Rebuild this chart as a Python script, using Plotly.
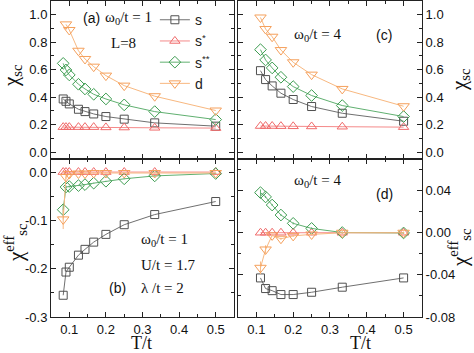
import plotly.graph_objects as go

# ---------------- data ----------------
T_a = [1/12, 1/11, 1/10, 1/8, 1/7, 1/6, 1/5, 1/4, 1/3, 1/2]
T_a_d = [1/11, 1/10, 1/8, 1/7, 1/6, 1/5, 1/4, 1/3, 1/2]
T_c = [1/9, 1/8, 1/7, 1/6, 1/5, 1/4, 1/3, 1/2]

# panel (a): omega0/t = 1, chi_sc
a_s = [0.387, 0.370, 0.351, 0.312, 0.295, 0.278, 0.259, 0.240, 0.213, 0.189]
a_s1 = [0.182, 0.182, 0.182, 0.182, 0.182, 0.182, 0.180, 0.179, 0.177, 0.175]
a_s2 = [0.646, 0.598, 0.562, 0.494, 0.460, 0.421, 0.387, 0.344, 0.295, 0.237]
a_d = [0.930, 0.889, 0.738, 0.678, 0.622, 0.557, 0.484, 0.407, 0.303]

# panel (c): omega0/t = 4, chi_sc
c_s = [0.593, 0.528, 0.482, 0.429, 0.383, 0.332, 0.283, 0.225]
c_s1 = [0.190, 0.190, 0.190, 0.189, 0.188, 0.187, 0.185, 0.182]
c_s2 = [0.746, 0.671, 0.613, 0.545, 0.477, 0.412, 0.339, 0.259]
c_d = [0.980, 0.896, 0.840, 0.743, 0.654, 0.564, 0.460, 0.334]

# panel (b): omega0/t = 1, chi_sc^eff
b_s = [-0.255, -0.207, -0.197, -0.172, -0.160, -0.145, -0.129, -0.109, -0.088, -0.061]
b_s1 = [0.000, 0.000, 0.000, 0.000, 0.000, 0.000, 0.000, 0.000, 0.000, 0.000]
b_s2 = [-0.078, -0.031, -0.030, -0.028, -0.026, -0.023, -0.019, -0.014, -0.008, -0.003]
b_s2_err = [0.012, 0.003, 0.002, 0.001, 0.001, 0.001, 0.001, 0.001, 0.001, 0.001]
b_d = [-0.098, -0.010, -0.004, -0.003, -0.003, -0.002, -0.002, -0.002, -0.002, -0.002]
b_d_err = [0.020, 0.004, 0.002, 0.001, 0.001, 0.001, 0.001, 0.001, 0.001, 0.001]

# panel (d): omega0/t = 4, chi_sc^eff
d_s = [-0.0429, -0.0530, -0.0550, -0.0587, -0.0587, -0.0565, -0.0517, -0.0429]
d_s1 = [0.000, 0.000, 0.000, 0.000, 0.000, 0.000, 0.000, 0.000]
d_s2 = [0.0381, 0.0340, 0.0263, 0.0168, 0.0089, 0.0041, 0.0002, -0.0002]
d_s2_err = [0.003, 0.001, 0.001, 0.001, 0.001, 0.001, 0.001, 0.001]
d_d = [-0.0333, -0.0159, -0.0025, -0.0057, -0.0030, -0.0016, 0.0000, 0.0000]
d_d_err = [0.006, 0.004, 0.001, 0.001, 0.001, 0.001, 0.001, 0.001]

x_ticks = [0.1, 0.2, 0.3, 0.4, 0.5]
x_ticktext = ["0.1", "0.2", "0.3", "0.4", "0.5"]
ytop_ticks = [0.0, 0.2, 0.4, 0.6, 0.8, 1.0]
ytop_text = ["0.0", "0.2", "0.4", "0.6", "0.8", "1.0"]
yb_ticks = [-0.3, -0.2, -0.1, 0.0]
yb_text = ["-0.3", "-0.2", "-0.1", "0.0"]
yd_ticks = [-0.08, -0.04, 0.0, 0.04]
yd_text = ["-0.08", "-0.04", "0.00", "0.04"]

names = ["s", "s<sup>*</sup>", "s<sup>**</sup>", "d"]
colors = ["#505050", "#f06a6a", "#3c9c50", "#f5a05c"]
line_colors = ["#707070", "#f58a8a", "#60b070", "#f8b880"]
symbols = ["square-open", "triangle-up-open", "diamond-open", "triangle-down-open"]
sizes = [8, 9, 9, 10]

fig = go.Figure()

def add(xs, ys, k, xa, ya, legend=False, err=None):
    tr = dict(
        x=xs, y=ys, mode="lines+markers", name=names[k],
        xaxis=xa, yaxis=ya, showlegend=legend,
        line=dict(color=line_colors[k], width=1),
        marker=dict(symbol=symbols[k], size=sizes[k], color=colors[k],
                    line=dict(width=1, color=colors[k])),
    )
    if err is not None:
        tr["error_y"] = dict(type="data", array=err, visible=True,
                             color=line_colors[k], thickness=1, width=0)
    fig.add_trace(go.Scatter(**tr))

# panel a
add(T_a, a_s, 0, "x", "y", True)
add(T_a, a_s1, 1, "x", "y", True)
add(T_a, a_s2, 2, "x", "y", True)
add(T_a_d, a_d, 3, "x", "y", True)
# panel c
add(T_c, c_s, 0, "x2", "y2")
add(T_c, c_s1, 1, "x2", "y2")
add(T_c, c_s2, 2, "x2", "y2")
add(T_c, c_d, 3, "x2", "y2")
# panel b
add(T_a, b_s, 0, "x3", "y3")
add(T_a, b_s1, 1, "x3", "y3")
add(T_a, b_s2, 2, "x3", "y3", err=b_s2_err)
add(T_a, b_d, 3, "x3", "y3", err=b_d_err)
# panel d
add(T_c, d_s, 0, "x4", "y4")
add(T_c, d_s1, 1, "x4", "y4")
add(T_c, d_s2, 2, "x4", "y4", err=d_s2_err)
add(T_c, d_d, 3, "x4", "y4", err=d_d_err)

tickfont = dict(family="Liberation Sans, Arial", size=13, color="#111")
xcommon = dict(range=[0.05, 0.55], showline=True, linecolor="#222", linewidth=1,
               mirror="ticks", ticks="inside", ticklen=5, tickcolor="#222",
               tickvals=x_ticks, ticktext=x_ticktext, showgrid=False, zeroline=False,
               tickfont=tickfont,
               minor=dict(ticks="inside", ticklen=3, tickcolor="#222",
                          tickvals=[0.05, 0.15, 0.25, 0.35, 0.45, 0.55]))
ycommon = dict(showline=True, linecolor="#222", linewidth=1, mirror="ticks",
               ticks="inside", ticklen=5, tickcolor="#222", showgrid=False,
               zeroline=False, tickfont=tickfont)

LD = [0.0, 0.4933]
RD = [0.504, 1.0]

fig.update_layout(
    width=474, height=353,
    margin=dict(l=51, r=52, t=1, b=36),
    paper_bgcolor="white", plot_bgcolor="white",
    xaxis=dict(xcommon, domain=LD, anchor="y", showticklabels=False),
    xaxis2=dict(xcommon, domain=RD, anchor="y2", showticklabels=False),
    xaxis3=dict(xcommon, domain=LD, anchor="y3"),
    xaxis4=dict(xcommon, domain=RD, anchor="y4"),
    yaxis=dict(ycommon, domain=[0.5, 1.0], anchor="x", range=[-0.05, 1.1],
               tickvals=ytop_ticks, ticktext=ytop_text,
               minor=dict(ticks="inside", ticklen=3, tickcolor="#222",
                          tickvals=[0.1, 0.3, 0.5, 0.7, 0.9])),
    yaxis2=dict(ycommon, domain=[0.5, 1.0], anchor="x2", side="right",
                range=[-0.05, 1.1], tickvals=ytop_ticks, ticktext=ytop_text,
                minor=dict(ticks="inside", ticklen=3, tickcolor="#222",
                           tickvals=[0.1, 0.3, 0.5, 0.7, 0.9])),
    yaxis3=dict(ycommon, domain=[0.0, 0.5], anchor="x3", range=[-0.3, 0.027],
                tickvals=yb_ticks, ticktext=yb_text,
                minor=dict(ticks="inside", ticklen=3, tickcolor="#222",
                           tickvals=[-0.25, -0.15, -0.05])),
    yaxis4=dict(ycommon, domain=[0.0, 0.5], anchor="x4", side="right",
                range=[-0.08, 0.07], tickvals=yd_ticks, ticktext=yd_text,
                minor=dict(ticks="inside", ticklen=3, tickcolor="#222",
                           tickvals=[-0.06, -0.02, 0.02, 0.06])),
    legend=dict(x=0.28, y=0.99, xanchor="left", yanchor="top",
                bgcolor="rgba(0,0,0,0)", itemwidth=30, tracegroupgap=0,
                font=dict(family="Liberation Sans, Arial", size=14, color="#222")),
    showlegend=True,
)

W, H, L, B, PW, PH = 474, 353, 51, 36, 371, 316
def px(x):
    return (x - L) / PW
def py(y):
    return (H - B - y) / PH

serif = dict(family="Liberation Serif, Times New Roman", size=15, color="#111")
sans = dict(family="Liberation Sans, Arial", size=14, color="#111")

ann = []
def A(text, x, y, font, xanchor="left", angle=0):
    ann.append(dict(text=text, x=px(x), y=py(y), xref="paper", yref="paper",
                    showarrow=False, xanchor=xanchor, yanchor="middle",
                    font=font, textangle=angle))

A("(a)", 81, 18, sans)
A("ω<sub>0</sub>/t = 1", 103, 18, serif)
A("L=8", 109, 43, serif)
A("ω<sub>0</sub>/t = 4", 292, 35, serif)
A("(c)", 374, 35, sans)
A("ω<sub>0</sub>/t = 1", 139, 240, serif)
A("U/t = 1.7", 139, 265, serif)
A("λ /t = 2", 139, 288, serif)
A("(b)", 107, 288, sans)
A("ω<sub>0</sub>/t = 4", 292, 181, serif)
A("(d)", 374, 194, sans)

ytitle = dict(family="Liberation Serif, Times New Roman", size=21, color="#111")
A("χ<sub>sc</sub>", 12, 76, ytitle, xanchor="center", angle=-90)
A("χ<sub>sc</sub>", 460, 80, ytitle, xanchor="center", angle=-90)
A("χ<sup>eff</sup><sub>sc</sub>", 15, 243, ytitle, xanchor="center", angle=-90)
A("χ<sup>eff</sup><sub>sc</sub>", 460, 248, ytitle, xanchor="center", angle=-90)
xt = dict(family="Liberation Serif, Times New Roman", size=18, color="#111")
A("T/t", 141, 343, xt, xanchor="center")
A("T/t", 360, 343, xt, xanchor="center")

fig.update_layout(annotations=ann)
fig.write_html("out.html")
